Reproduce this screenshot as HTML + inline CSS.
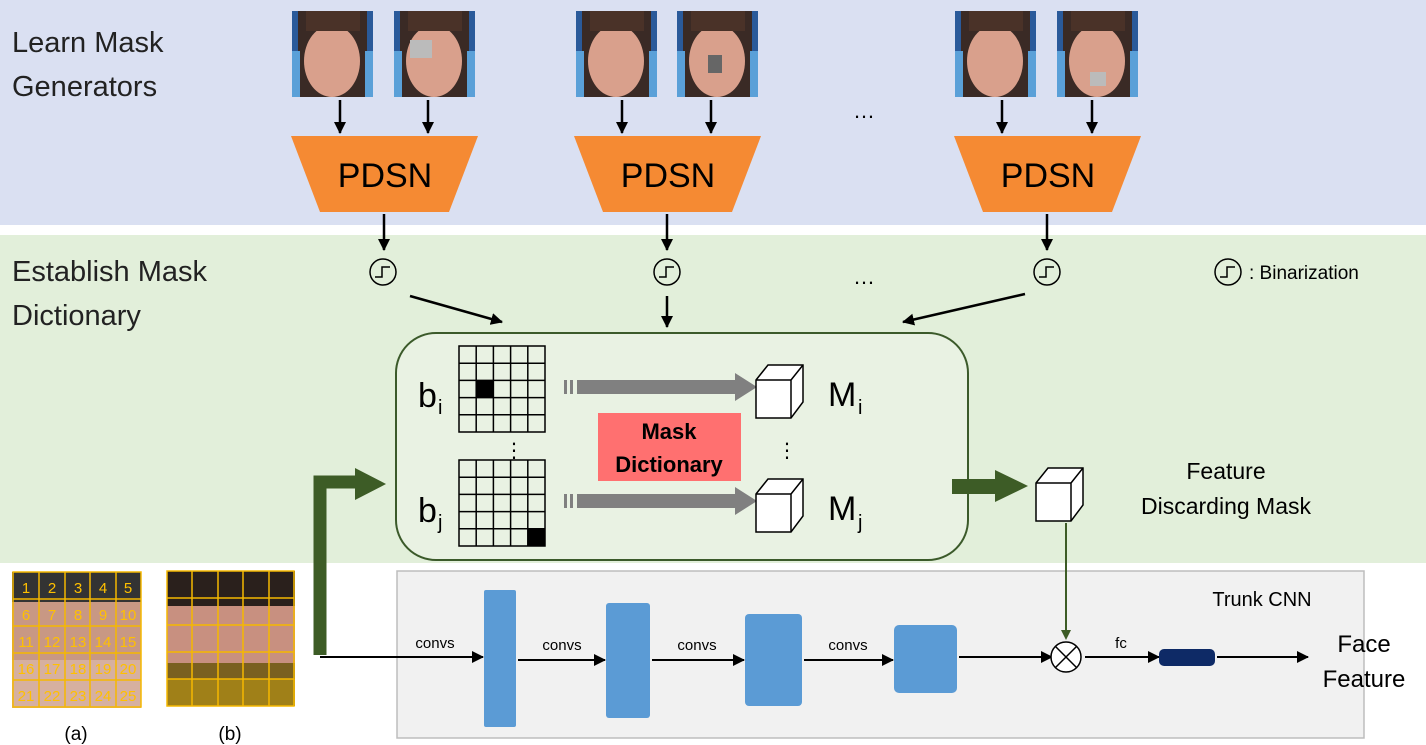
<!DOCTYPE html>
<html><head><meta charset="utf-8"><style>
html,body{margin:0;padding:0;background:#fff}
svg{display:block}
text{font-family:"Liberation Sans","DejaVu Sans",sans-serif}
</style></head><body>
<svg width="1426" height="745" viewBox="0 0 1426 745" xmlns="http://www.w3.org/2000/svg">
<defs>
<marker id="ah" markerWidth="12" markerHeight="12" refX="11" refY="6" orient="auto" markerUnits="userSpaceOnUse"><path d="M0,0 L12,6 L0,12 z" fill="#000"/></marker>
<g id="face">
<rect width="81" height="86" fill="#2a5a9a"/>
<rect x="6" width="69" height="86" fill="#3a2a25"/>
<ellipse cx="40" cy="50" rx="28" ry="36" fill="#d9a08c"/>
<rect x="14" y="0" width="54" height="20" fill="#4a3228"/>
<rect x="0" y="40" width="8" height="46" fill="#5aa0d8"/>
<rect x="73" y="40" width="8" height="46" fill="#5aa0d8"/>
</g>
<g id="trap"><polygon points="0,0 187,0 158,76 29,76" fill="#f58a33"/></g>
<g id="bin"><circle r="13" fill="none" stroke="#000" stroke-width="1.5"/><path d="M-8,5 H-1 V-5 H7" fill="none" stroke="#000" stroke-width="1.5"/></g>
<g id="cube" fill="#fff" stroke="#000" stroke-width="1.5"><polygon points="0,18 12,3 47,3 47,40 35,56 0,56"/><path d="M0,18 H35 V56 M35,18 L47,3" fill="none"/></g>
<g id="grid" stroke="#000" stroke-width="1.5" fill="none">
<rect width="86" height="86"/>
<path d="M17.2,0V86M34.4,0V86M51.6,0V86M68.8,0V86M0,17.2H86M0,34.4H86M0,51.6H86M0,68.8H86"/>
</g>
</defs>
<rect x="0" y="0" width="1426" height="225" fill="#dae0f2"/>
<rect x="0" y="235" width="1426" height="328" fill="#e2efda"/>
<text x="12" y="52" font-size="29" fill="#222">Learn Mask</text>
<text x="12" y="96" font-size="29" fill="#222">Generators</text>
<text x="12" y="281" font-size="29" fill="#222">Establish Mask</text>
<text x="12" y="325" font-size="29" fill="#222">Dictionary</text>
<use href="#face" x="292" y="11"/><use href="#face" x="394" y="11"/>
<use href="#face" x="576" y="11"/><use href="#face" x="677" y="11"/>
<use href="#face" x="955" y="11"/><use href="#face" x="1057" y="11"/>
<rect x="410" y="40" width="22" height="18" fill="#bbb"/>
<rect x="708" y="55" width="14" height="18" fill="#666"/>
<rect x="1090" y="72" width="16" height="14" fill="#bbb"/>
<text x="853" y="118" font-size="22">…</text>
<g stroke="#000" stroke-width="2.5" marker-end="url(#ah)">
<line x1="340" y1="100" x2="340" y2="133"/><line x1="428" y1="100" x2="428" y2="133"/>
<line x1="622" y1="100" x2="622" y2="133"/><line x1="711" y1="100" x2="711" y2="133"/>
<line x1="1002" y1="100" x2="1002" y2="133"/><line x1="1092" y1="100" x2="1092" y2="133"/>
</g>
<use href="#trap" x="291" y="136"/><use href="#trap" x="574" y="136"/><use href="#trap" x="954" y="136"/>
<text x="385" y="187" font-size="34" text-anchor="middle">PDSN</text>
<text x="668" y="187" font-size="34" text-anchor="middle">PDSN</text>
<text x="1048" y="187" font-size="34" text-anchor="middle">PDSN</text>
<g stroke="#000" stroke-width="2.5" marker-end="url(#ah)">
<line x1="384" y1="214" x2="384" y2="250"/><line x1="667" y1="214" x2="667" y2="250"/><line x1="1047" y1="214" x2="1047" y2="250"/>
<line x1="410" y1="296" x2="502" y2="322"/><line x1="667" y1="296" x2="667" y2="327"/><line x1="1025" y1="294" x2="903" y2="322"/>
</g>
<use href="#bin" x="383" y="272"/><use href="#bin" x="667" y="272"/><use href="#bin" x="1047" y="272"/>
<text x="853" y="284" font-size="22">…</text>
<use href="#bin" x="1228" y="272"/>
<text x="1249" y="279" font-size="19">: Binarization</text>
<rect x="396" y="333" width="572" height="227" rx="40" fill="#e9f2e3" stroke="#3b5a2a" stroke-width="2"/>
<text x="418" y="407" font-size="34">b</text><text x="438" y="414" font-size="20">i</text>
<text x="418" y="522" font-size="34">b</text><text x="438" y="529" font-size="20">j</text>
<use href="#grid" x="459" y="346"/><rect x="476" y="381" width="17" height="17" fill="#000"/>
<use href="#grid" x="459" y="460"/><rect x="528" y="529" width="17" height="17" fill="#000"/>
<text x="514" y="457" font-size="20" text-anchor="middle">⋮</text>
<g fill="#808080">
<rect x="564" y="380" width="3" height="14"/><rect x="570" y="380" width="3" height="14"/><polygon points="577,380 735,380 735,373 757,387 735,401 735,394 577,394"/>
<rect x="564" y="494" width="3" height="14"/><rect x="570" y="494" width="3" height="14"/><polygon points="577,494 735,494 735,487 757,501 735,515 735,508 577,508"/>
</g>
<rect x="598" y="413" width="143" height="68" fill="#ff7070"/>
<text x="669" y="439" font-size="22" font-weight="bold" text-anchor="middle">Mask</text>
<text x="669" y="472" font-size="22" font-weight="bold" text-anchor="middle">Dictionary</text>
<use href="#cube" x="756" y="362"/><use href="#cube" x="756" y="476"/>
<text x="787" y="457" font-size="20" text-anchor="middle">⋮</text>
<text x="828" y="406" font-size="34">M</text><text x="858" y="414" font-size="20">i</text>
<text x="828" y="520" font-size="34">M</text><text x="858" y="529" font-size="20">j</text>
<path d="M320,655 V482 H358" fill="none" stroke="#3d5c26" stroke-width="13"/>
<polygon points="355,468 386,484 355,500" fill="#3d5c26"/>
<rect x="952" y="479" width="45" height="15" fill="#3d5c26"/>
<polygon points="995,470 1028,486 995,502" fill="#3d5c26"/>
<use href="#cube" x="1036" y="465"/>
<text x="1226" y="479" font-size="23" text-anchor="middle">Feature</text>
<text x="1226" y="514" font-size="23" text-anchor="middle">Discarding Mask</text>
<rect x="12" y="572" width="129" height="136" fill="#c89884"/>
<rect x="12" y="572" width="129" height="30" fill="#333"/>
<rect x="12" y="660" width="129" height="48" fill="#d6b0a0"/>
<g stroke="#f5b800" stroke-width="1.5" fill="none">
<rect x="13" y="572" width="128" height="135"/><path d="M39,572V707M65,572V707M90,572V707M116,572V707M13,599H141M13,626H141M13,653H141M13,680H141"/>
</g>
<g font-size="15" fill="#ffc000" text-anchor="middle">
<text x="26" y="593">1</text><text x="52" y="593">2</text><text x="78" y="593">3</text><text x="103" y="593">4</text><text x="128" y="593">5</text>
<text x="26" y="620">6</text><text x="52" y="620">7</text><text x="78" y="620">8</text><text x="103" y="620">9</text><text x="128" y="620">10</text>
<text x="26" y="647">11</text><text x="52" y="647">12</text><text x="78" y="647">13</text><text x="103" y="647">14</text><text x="128" y="647">15</text>
<text x="26" y="674">16</text><text x="52" y="674">17</text><text x="78" y="674">18</text><text x="103" y="674">19</text><text x="128" y="674">20</text>
<text x="26" y="701">21</text><text x="52" y="701">22</text><text x="78" y="701">23</text><text x="103" y="701">24</text><text x="128" y="701">25</text>
</g>
<rect x="167" y="571" width="128" height="92" fill="#c89080"/>
<rect x="167" y="571" width="128" height="35" fill="#2a201c"/>
<rect x="167" y="679" width="128" height="27" fill="#a08018"/>
<rect x="167" y="663" width="128" height="16" fill="#7a6020"/>
<g stroke="#f5b800" stroke-width="1.5" fill="none">
<rect x="167" y="571" width="127" height="135"/><path d="M192,571V706M218,571V706M243,571V706M269,571V706M167,598H294M167,625H294M167,652H294M167,679H294"/>
</g>
<text x="76" y="740" font-size="19" text-anchor="middle">(a)</text>
<text x="230" y="740" font-size="19" text-anchor="middle">(b)</text>
<rect x="397" y="571" width="967" height="167" fill="#f1f1f1" stroke="#bdbdbd" stroke-width="1.5"/>
<text x="1262" y="606" font-size="20" text-anchor="middle">Trunk CNN</text>
<g fill="#5b9bd5">
<rect x="484" y="590" width="32" height="137" rx="2"/><rect x="606" y="603" width="44" height="115" rx="3"/>
<rect x="745" y="614" width="57" height="92" rx="4"/><rect x="894" y="625" width="63" height="68" rx="5"/>
</g>
<g stroke="#000" stroke-width="2" marker-end="url(#ah)">
<line x1="320" y1="657" x2="483" y2="657"/><line x1="518" y1="660" x2="605" y2="660"/>
<line x1="652" y1="660" x2="744" y2="660"/><line x1="804" y1="660" x2="893" y2="660"/>
<line x1="959" y1="657" x2="1052" y2="657"/><line x1="1085" y1="657" x2="1159" y2="657"/>
<line x1="1217" y1="657" x2="1308" y2="657"/>
</g>
<g font-size="15" text-anchor="middle">
<text x="435" y="648">convs</text><text x="562" y="650">convs</text><text x="697" y="650">convs</text><text x="848" y="650">convs</text><text x="1121" y="648">fc</text>
</g>
<line x1="1066" y1="523" x2="1066" y2="632" stroke="#3d5c26" stroke-width="2"/>
<polygon points="1061,630 1071,630 1066,640" fill="#3d5c26"/>
<circle cx="1066" cy="657" r="15" fill="#fff" stroke="#000" stroke-width="1.5"/>
<path d="M1055,646 L1077,668 M1077,646 L1055,668" stroke="#000" stroke-width="1.5"/>
<rect x="1159" y="649" width="56" height="17" rx="5" fill="#0e2a66"/>
<text x="1364" y="652" font-size="24" text-anchor="middle">Face</text>
<text x="1364" y="687" font-size="24" text-anchor="middle">Feature</text>
</svg>
</body></html>
